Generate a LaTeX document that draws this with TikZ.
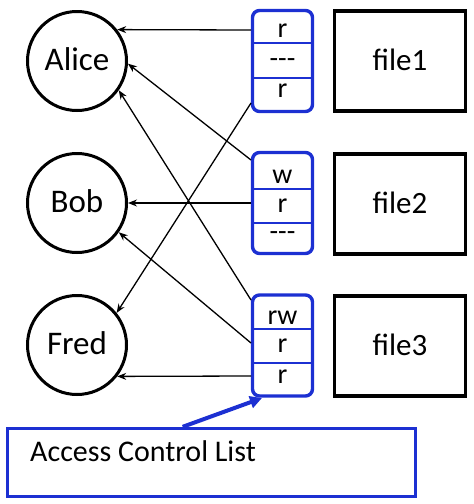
\documentclass[tikz,border=0pt]{standalone}
\usepackage{fontspec}
\setmainfont{Carlito}
\usetikzlibrary{arrows.meta,calc}
\definecolor{aclblue}{RGB}{28,48,210}
\begin{document}
\begin{tikzpicture}[x=1pt,y=-1pt,
 person/.style={circle,draw,line width=3pt,minimum size=99pt,inner sep=0pt,font=\fontsize{33}{38}\selectfont},
 filebox/.style={rectangle,draw,line width=3.5pt,minimum width=131pt,minimum height=100pt,inner sep=0pt,font=\fontsize{31}{36}\selectfont},
 aclbox/.style={rectangle,draw=aclblue,line width=3.4pt,rounded corners=7pt,minimum width=60pt,minimum height=101pt,inner sep=0pt},
 cell/.style={anchor=base,inner sep=0pt,font=\fontsize{28}{30}\selectfont},
 divider/.style={draw=aclblue,line width=2.8pt},
 link/.style={-{Stealth[length=9pt,width=7pt]},line width=1.3pt},
 labbox/.style={rectangle,draw=aclblue,line width=3.4pt,minimum width=408pt,minimum height=68pt,inner sep=0pt},
 labtext/.style={anchor=base west,inner sep=0pt,font=\fontsize{30}{36}\selectfont},
 callout/.style={draw=aclblue,line width=4pt,-{Triangle[length=12pt,width=12pt]}},
]
\useasboundingbox (0,0) rectangle (474,504);

% people
\node[person] (alice) at (77,61) {\raisebox{3.5pt}{Alice}};
\node[person] (bob) at (77,203) {\raisebox{3.5pt}{Bob}};
\node[person] (fred) at (77,345) {\raisebox{3.5pt}{Fred}};

% files
\node[filebox] (file1) at (400,61) {\raisebox{3pt}{file1}};
\node[filebox] (file2) at (400,204) {\raisebox{3pt}{file2}};
\node[filebox] (file3) at (400,346) {\raisebox{3pt}{file3}};

% ACL boxes
\node[aclbox] (acl1) at (282.5,61) {};
\node[aclbox] (acl2) at (282.5,203) {};
\node[aclbox] (acl3) at (282.5,345.5) {};

\draw[divider] (251,43) -- (314,43);
\draw[divider] (251,78) -- (314,78);
\draw[divider] (251,189) -- (314,189);
\draw[divider] (251,223) -- (314,223);
\draw[divider] (251,329) -- (314,329);
\draw[divider] (251,363) -- (314,363);

\node[cell] (c11) at (282.5,37) {r};
\node[cell] (c12) at (282.5,67) {{-}{-}{-}};
\node[cell] (c13) at (282.5,97) {r};
\node[cell] (c21) at (282.5,183) {w};
\node[cell] (c22) at (282.5,212) {r};
\node[cell] (c23) at (282.5,240) {{-}{-}{-}};
\node[cell] (c31) at (282.5,324) {rw};
\node[cell] (c32) at (282.5,352) {r};
\node[cell] (c33) at (282.5,383) {r};

% link start points on ACL boxes
\coordinate (s1) at (251,30);
\coordinate (s2) at (251,103);
\coordinate (s3) at (251,160);
\coordinate (s4) at (251,203);
\coordinate (s5) at (251,300);
\coordinate (s6) at (251,343);
\coordinate (s7) at (251,376);

\draw[link] (s1) -- (alice.38);
\draw[link] (s2) -- (fred.39);
\draw[link] (s3) -- (alice.-3);
\draw[link] (s4) -- (bob.0);
\draw[link] (s5) -- (alice.-35);
\draw[link] (s6) -- (bob.-35);
\draw[link] (s7) -- (fred.-38);

% label
\node[labbox] (lab) at (211.5,462.5) {};
\node[labtext] (labt) at (30,461) {Access Control List};
\coordinate (labtail) at ($(lab.north west)!0.43!(lab.north east)$);
\coordinate (acltip) at (262,398);
\draw[callout] (labtail) -- (acltip);
\end{tikzpicture}
\end{document}
